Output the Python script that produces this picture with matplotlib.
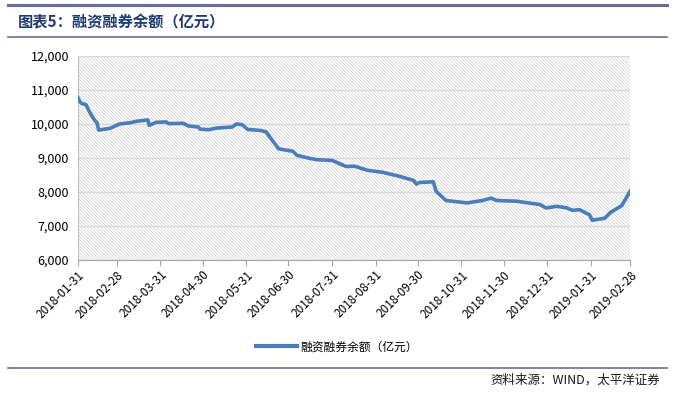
import numpy as np
import matplotlib
matplotlib.use("Agg")
import matplotlib.pyplot as plt
from matplotlib.patches import Rectangle
from matplotlib.lines import Line2D

plt.rcParams['font.family'] = ['Noto Sans CJK SC', 'DejaVu Sans']
plt.rcParams['hatch.linewidth'] = 0.6

# Data (亿元)
dates = ['2018-01-31', '2018-02-02', '2018-02-03', '2018-02-06', '2018-02-08',
         '2018-02-10', '2018-02-12', '2018-02-14', '2018-02-15', '2018-02-23',
         '2018-03-02', '2018-03-10', '2018-03-14', '2018-03-22', '2018-03-23',
         '2018-03-28', '2018-04-04', '2018-04-06', '2018-04-16', '2018-04-20',
         '2018-04-27', '2018-04-28', '2018-05-04', '2018-05-10', '2018-05-21',
         '2018-05-24', '2018-05-28', '2018-06-01', '2018-06-10', '2018-06-14',
         '2018-06-23', '2018-06-27', '2018-07-03', '2018-07-06', '2018-07-14',
         '2018-07-20', '2018-07-31', '2018-08-10', '2018-08-16', '2018-08-25',
         '2018-09-05', '2018-09-17', '2018-09-27', '2018-09-29', '2018-10-01',
         '2018-10-11', '2018-10-13', '2018-10-20', '2018-11-04', '2018-11-15',
         '2018-11-21', '2018-11-25', '2018-12-09', '2018-12-26', '2018-12-30',
         '2019-01-07', '2019-01-14', '2019-01-18', '2019-01-23', '2019-01-30',
         '2019-02-01', '2019-02-10', '2019-02-14', '2019-02-22', '2019-02-28']
balance = [10790, 10640, 10600, 10570, 10400,
           10250, 10120, 10020, 9820, 9870,
           10000, 10040, 10080, 10120, 9960,
           10050, 10060, 10010, 10020, 9940,
           9910, 9850, 9830, 9880, 9910,
           10000, 9980, 9840, 9810, 9770,
           9270, 9240, 9200, 9080, 9000,
           8950, 8930, 8750, 8760, 8640,
           8580, 8460, 8340, 8230, 8280,
           8300, 8020, 7750, 7680, 7750,
           7820, 7750, 7730, 7630, 7530,
           7580, 7530, 7460, 7480, 7330,
           7170, 7230, 7400, 7600, 8030]

tick_dates = ['2018-01-31', '2018-02-28', '2018-03-31', '2018-04-30', '2018-05-31',
              '2018-06-30', '2018-07-31', '2018-08-31', '2018-09-30', '2018-10-31',
              '2018-11-30', '2018-12-31', '2019-01-31', '2019-02-28']
yticks = [6000, 7000, 8000, 9000, 10000, 11000, 12000]

x = np.array(dates, dtype='datetime64[D]')
xt = np.array(tick_dates, dtype='datetime64[D]')

fig = plt.figure(figsize=(6.74, 3.94), dpi=100)
ax = fig.add_axes([0.115, 0.34, 0.82, 0.518])

# hatched background
ax.add_patch(Rectangle((0, 0), 1, 1, transform=ax.transAxes, facecolor='white',
                       edgecolor='#d6d6d6', hatch='\\' * 10, linewidth=0, zorder=0))

ax.plot(x, balance, color='#4a7ebb', linewidth=2.6, solid_joinstyle='round', zorder=3)

ax.set_xlim(xt[0], xt[-1])
ax.set_ylim(6000, 12000)
ax.set_yticks(yticks)
ax.set_yticklabels([f"{v:,}" for v in yticks], fontsize=9)
ax.set_xticks(xt)
ax.set_xticklabels(tick_dates, rotation=45, ha='right', rotation_mode='anchor', fontsize=8.5)
ax.yaxis.grid(True, color='#d9d9d9', linewidth=1, zorder=1)
ax.set_axisbelow(True)
for s in ['top', 'right']:
    ax.spines[s].set_visible(False)
ax.spines['left'].set_color('#bfbfbf')
ax.spines['bottom'].set_color('#a6a6a6')
ax.tick_params(axis='y', length=0, pad=6)
ax.tick_params(axis='x', length=4, color='#a6a6a6', pad=2)

# legend
handle = Line2D([0], [0], color='#4a7ebb', linewidth=3)
fig.legend([handle], ['融资融券余额（亿元）'], loc='center', bbox_to_anchor=(0.5, 1 - 347 / 394),
           frameon=False, fontsize=8.5, handlelength=3.5, handletextpad=0.3)

# header and footer decorations
fig.add_artist(Line2D([8 / 674, 667 / 674], [1 - 5 / 394] * 2, color='#6a6a99', linewidth=2.2))
fig.add_artist(Line2D([8 / 674, 667 / 674], [1 - 37 / 394] * 2, color='#6a6a99', linewidth=1.2))
fig.add_artist(Line2D([8 / 674, 667 / 674], [1 - 368 / 394] * 2, color='#6a6a99', linewidth=1.2))
fig.text(18 / 674, 1 - 22 / 394, '图表5：融资融券余额（亿元）', fontsize=11, fontweight='bold',
         color='#1f3b73', va='center', ha='left')
fig.text(660 / 674, 1 - 380 / 394, '资料来源：WIND，太平洋证券', fontsize=9, style='italic',
         color='#1a1a1a', va='center', ha='right')

fig.savefig('out.png', dpi=100)
